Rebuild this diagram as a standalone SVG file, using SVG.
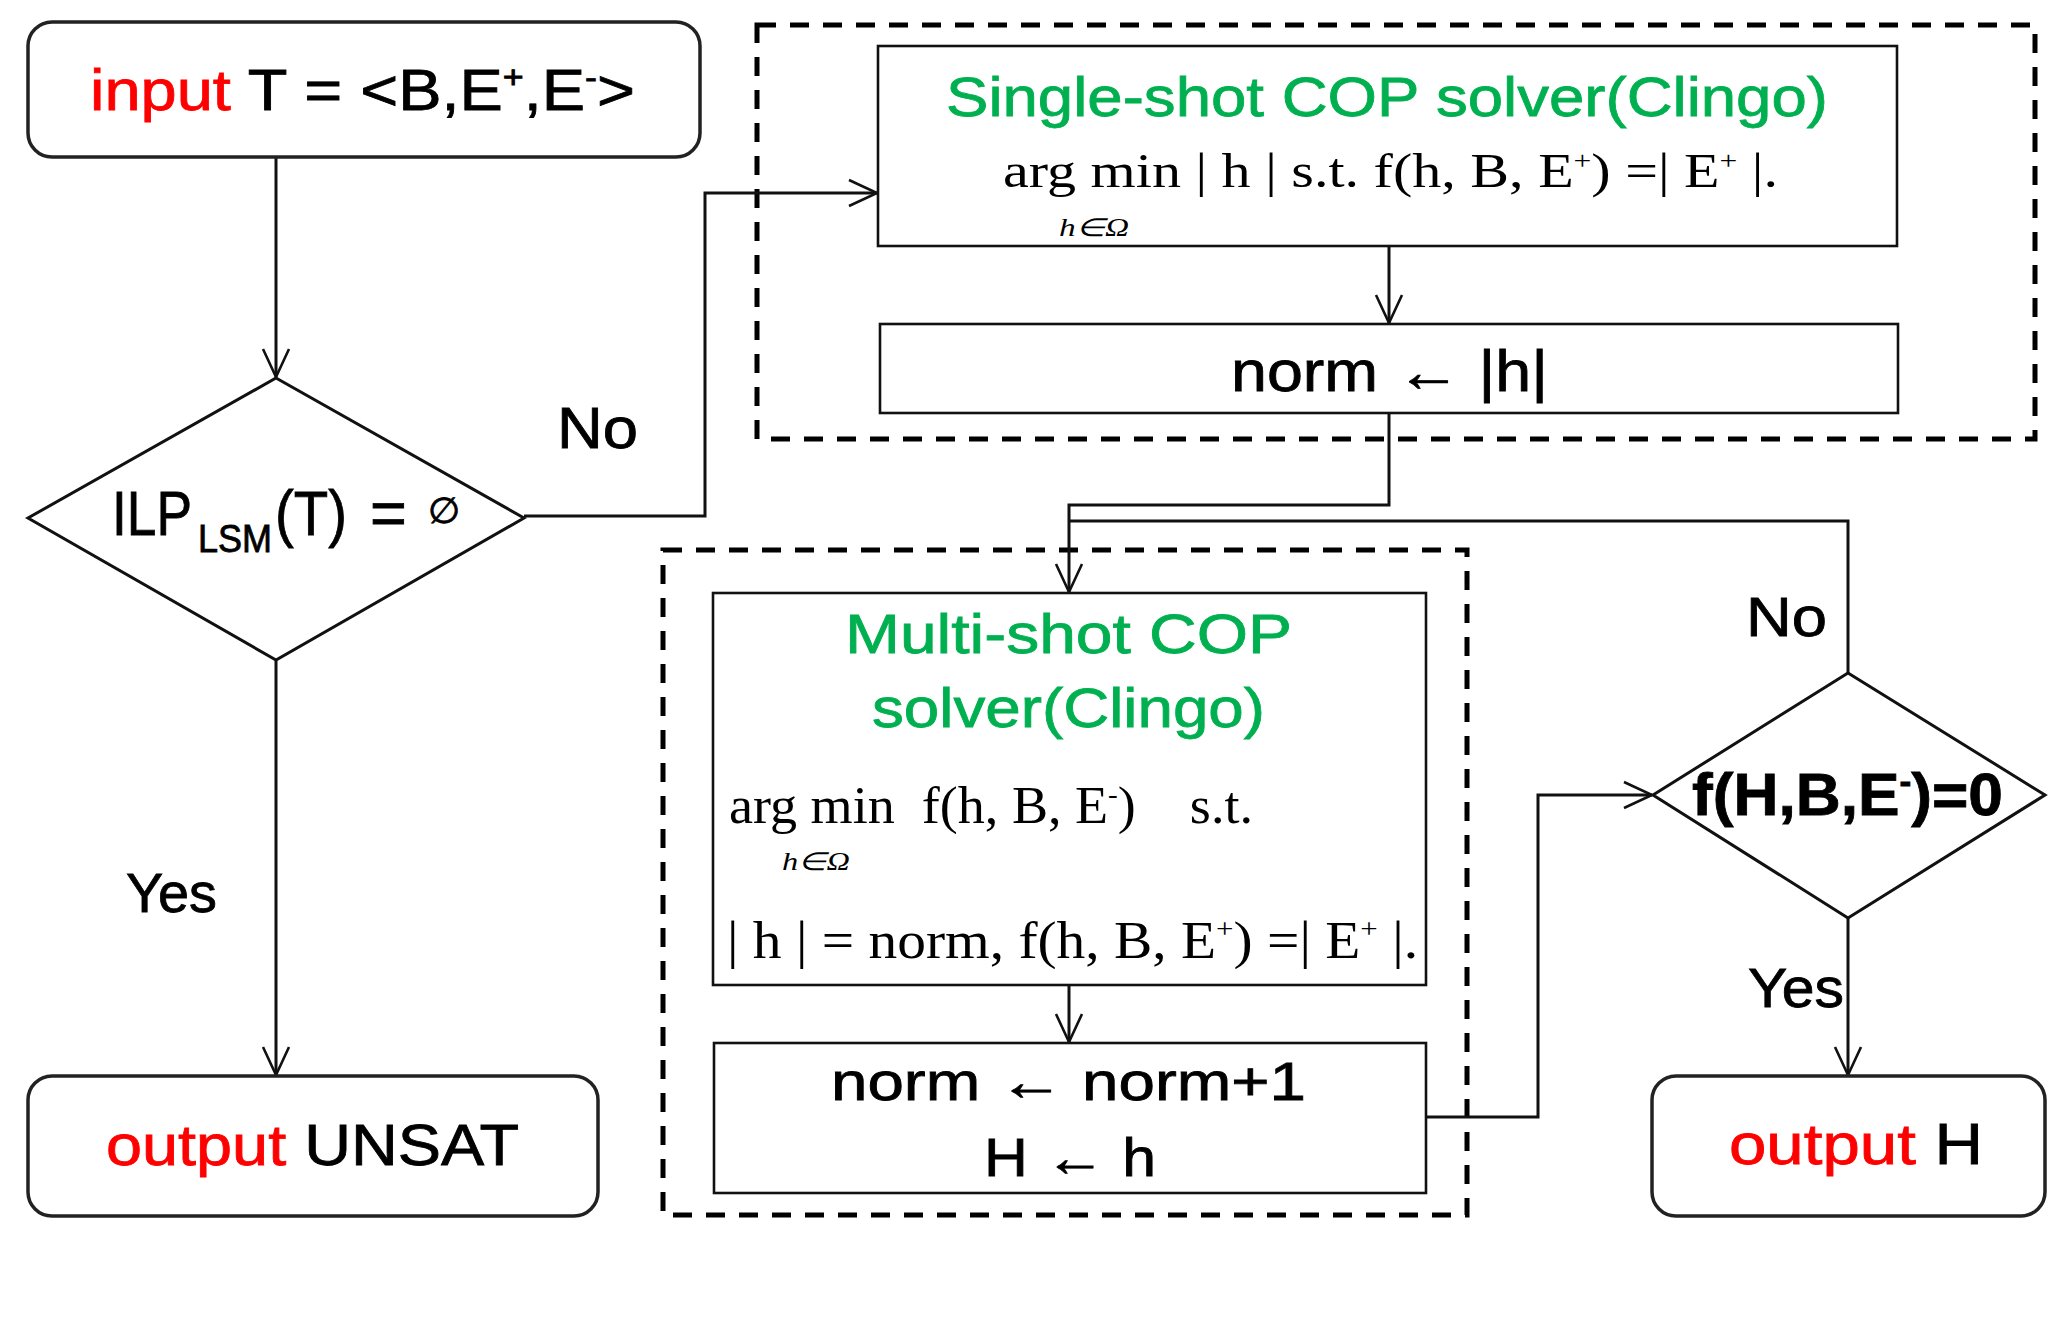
<svg xmlns="http://www.w3.org/2000/svg" width="2072" height="1320" viewBox="0 0 2072 1320">
<style>
.bg{fill:#fff}
.rbox{fill:#fff;stroke:#222;stroke-width:3.5}
.box{fill:#fff;stroke:#111;stroke-width:2.6}
.dash{fill:none;stroke:#000;stroke-width:5;stroke-dasharray:19 14}
.dia{fill:#fff;stroke:#111;stroke-width:3}
.conn{fill:none;stroke:#111;stroke-width:3}
.s{font-family:"Liberation Sans",Arial,"DejaVu Sans",sans-serif;fill:#000;stroke:#000;stroke-width:0.8}
.m{font-family:"Liberation Serif","Times New Roman",serif;fill:#000}
.red{fill:#ff0000;stroke:#ff0000}
.green{fill:#00b050;stroke:#00b050}
</style>
<defs>
<marker id="arr" markerUnits="userSpaceOnUse" markerWidth="32" markerHeight="32" viewBox="0 0 32 32" refX="30" refY="16" orient="auto">
<path d="M2,3 L30,16 L2,29" fill="none" stroke="#111" stroke-width="2.6"/>
</marker>
</defs>
<rect class="bg" x="0" y="0" width="2072" height="1320"/>

<g id="group-single">
<rect class="dash" x="757" y="25" width="1278" height="414"/>
</g>
<g id="group-multi">
<rect class="dash" x="663" y="550" width="804" height="665"/>
</g>

<g id="connectors">
<path class="conn" d="M276,157 V377" marker-end="url(#arr)"/>
<path class="conn" d="M524,516 H705 V193 H877" marker-end="url(#arr)"/>
<path class="conn" d="M276,660 V1075" marker-end="url(#arr)"/>
<path class="conn" d="M1389,246 V323" marker-end="url(#arr)"/>
<path class="conn" d="M1389,413 V505 H1069 V592" marker-end="url(#arr)"/>
<path class="conn" d="M1848,673 V521 H1069"/>
<path class="conn" d="M1069,985 V1042" marker-end="url(#arr)"/>
<path class="conn" d="M1426,1117 H1538 V795 H1652" marker-end="url(#arr)"/>
<path class="conn" d="M1848,918 V1075" marker-end="url(#arr)"/>
</g>

<g id="labels">
<text class="s" x="557" y="448" font-size="58" textLength="81" lengthAdjust="spacingAndGlyphs">No</text>
<text class="s" x="126" y="912" font-size="56" textLength="91" lengthAdjust="spacingAndGlyphs">Yes</text>
<text class="s" x="1746" y="636" font-size="56" textLength="81" lengthAdjust="spacingAndGlyphs">No</text>
<text class="s" x="1748" y="1007" font-size="56" textLength="96" lengthAdjust="spacingAndGlyphs">Yes</text>
</g>

<g id="node-input">
<rect class="rbox" x="28" y="22" width="672" height="135" rx="24"/>
<text class="s" x="90" y="110" font-size="58" textLength="545" lengthAdjust="spacingAndGlyphs"><tspan class="red">input</tspan> T = &lt;B,E<tspan font-size="32" dy="-22">+</tspan><tspan dy="22">,E</tspan><tspan font-size="32" dy="-22">-</tspan><tspan dy="22">&gt;</tspan></text>
</g>

<g id="node-ilp">
<polygon class="dia" points="276,378 524,518 276,660 28,518"/>
<text class="s" x="112" y="535" font-size="63" textLength="80" lengthAdjust="spacingAndGlyphs">ILP</text>
<text class="s" x="198" y="552" font-size="38" textLength="74" lengthAdjust="spacingAndGlyphs">LSM</text>
<text class="s" x="275" y="535" font-size="63" textLength="72" lengthAdjust="spacingAndGlyphs">(T)</text>
<text class="s" x="370" y="535" font-size="63">=</text>
<text class="s" x="428" y="523" font-size="36" textLength="32" lengthAdjust="spacingAndGlyphs">∅</text>
</g>

<g id="node-unsat">
<rect class="rbox" x="28" y="1076" width="570" height="140" rx="24"/>
<text class="s" x="106" y="1165" font-size="58" textLength="413" lengthAdjust="spacingAndGlyphs"><tspan class="red">output</tspan> UNSAT</text>
</g>

<g id="node-single">
<rect class="box" x="878" y="46" width="1019" height="200"/>
<text class="s green" x="946" y="116" font-size="56" textLength="882" lengthAdjust="spacingAndGlyphs">Single-shot COP solver(Clingo)</text>
<text class="m" x="1003" y="187" font-size="48" textLength="775" lengthAdjust="spacingAndGlyphs">arg min | h | s.t.  f(h, B, E<tspan font-size="26" dy="-18">+</tspan><tspan dy="18">) =| E</tspan><tspan font-size="26" dy="-18">+</tspan><tspan dy="18"> |.</tspan></text>
<text class="m" x="1059" y="236" font-size="25" font-style="italic" textLength="70" lengthAdjust="spacingAndGlyphs">h∈Ω</text>
</g>

<g id="node-norm">
<rect class="box" x="880" y="324" width="1018" height="89"/>
<text class="s" x="1231" y="391" font-size="57" textLength="317" lengthAdjust="spacingAndGlyphs">norm ← |h|</text>
</g>

<g id="node-multi">
<rect class="box" x="713" y="593" width="713" height="392"/>
<text class="s green" x="845" y="653" font-size="56" textLength="447" lengthAdjust="spacingAndGlyphs">Multi-shot COP</text>
<text class="s green" x="872" y="727" font-size="56" textLength="393" lengthAdjust="spacingAndGlyphs">solver(Clingo)</text>
<text class="m" x="729" y="823" font-size="52" textLength="524" lengthAdjust="spacingAndGlyphs" xml:space="preserve">arg min  f(h, B, E<tspan font-size="28" dy="-20">-</tspan><tspan dy="20">)    s.t.</tspan></text>
<text class="m" x="782" y="870" font-size="25" font-style="italic" textLength="68" lengthAdjust="spacingAndGlyphs">h∈Ω</text>
<text class="m" x="727" y="958" font-size="52" textLength="691" lengthAdjust="spacingAndGlyphs">| h | = norm, f(h, B, E<tspan font-size="28" dy="-20">+</tspan><tspan dy="20">) =| E</tspan><tspan font-size="28" dy="-20">+</tspan><tspan dy="20"> |.</tspan></text>
</g>

<g id="node-update">
<rect class="box" x="714" y="1043" width="712" height="150"/>
<text class="s" x="831" y="1100" font-size="54" textLength="475" lengthAdjust="spacingAndGlyphs">norm ← norm+1</text>
<text class="s" x="984" y="1176" font-size="54" textLength="172" lengthAdjust="spacingAndGlyphs">H ← h</text>
</g>

<g id="node-check">
<polygon class="dia" points="1848,673 2045,795 1848,918 1653,795"/>
<text class="s" x="1692" y="815" font-size="60" font-weight="bold" textLength="311" lengthAdjust="spacingAndGlyphs">f(H,B,E<tspan font-size="34" dy="-22">-</tspan><tspan dy="22">)=0</tspan></text>
</g>

<g id="node-outH">
<rect class="rbox" x="1652" y="1076" width="393" height="140" rx="24"/>
<text class="s" x="1729" y="1164" font-size="58" textLength="254" lengthAdjust="spacingAndGlyphs"><tspan class="red">output</tspan> H</text>
</g>
</svg>
